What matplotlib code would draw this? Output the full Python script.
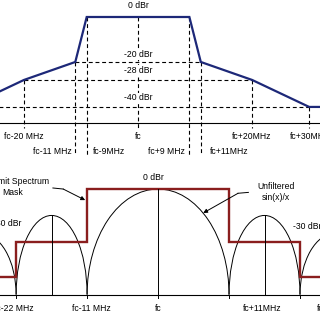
import matplotlib
matplotlib.use('Agg')
import matplotlib.pyplot as plt
from matplotlib.patches import Arc

plt.rcParams['font.family'] = ['Liberation Sans Narrow', 'Liberation Sans', 'DejaVu Sans']

# --- top panel: OFDM spectrum mask (MHz offset from fc, dBr)
mask_f = [-40, -30, -20, -11, -9, 9, 11, 20, 30, 40]
mask_db = [-40, -40, -28, -20, 0, 0, -20, -28, -40, -40]

level_db = [-20, -28, -40]
level_span = [(-11, 11), (-20, 20), (-30, 30)]
level_text = ['-20 dBr', '-28 dBr', '-40 dBr']
level_text_y = [-16.9, -23.6, -36.0]

guide_f = [-20, -11, -9, 0, 9, 11, 20, 30]
guide_top = [-28, -20, 0, 0, 0, -20, -28, -40]
guide_row = [1, 2, 2, 1, 2, 2, 1, 1]

tick_text = ['fc-20 MHz', 'fc-11 MHz', 'fc-9MHz', 'fc', 'fc+9 MHz', 'fc+11MHz', 'fc+20MHz', 'fc+30MHz']
tick_x = [-20, -15.1, -5.1, 0, 4.9, 16.0, 20, 30]

# --- bottom panel: DSSS mask and sin(x)/x lobes
dsss_edges = [-30, -22, -11, 11, 22, 30]
dsss_db = [-50, -30, 0, -30, -50]

lobe_center = [-27.5, -16.5, 0, 16.5, 27.5]
lobe_halfwidth = [5.5, 5.5, 11, 5.5, 5.5]
lobe_peak = [-25, -15, 0, -15, -25]
base_db = -60

bottom_text = ['fc-22 MHz', 'fc-11 MHz', 'fc', 'fc+11MHz', 'fc+22MHz']
bottom_x = [-22.3, -10.4, 0, 16.1, 27.7]

navy = '#1d2878'
maroon = '#8a1e1e'
fs = 6.2
dash = (0, (3.5, 2.5))


def pointer(ax, tail, bend, head):
    # short leader line, then the arrow
    ax.plot([tail[0], bend[0]], [tail[1], bend[1]], color='black', lw=0.7)
    ax.annotate('', xy=head, xytext=bend,
                arrowprops=dict(arrowstyle='-|>', color='black', lw=0.7, mutation_scale=6,
                                shrinkA=0, shrinkB=0))


fig = plt.figure(figsize=(3.2, 3.2), dpi=100)

# top panel
ax1 = fig.add_axes([0, 0.5, 1, 0.5])
ax1.set_xlim(-24.2, 31.9)
ax1.set_ylim(-63.6, 7.56)
ax1.axis('off')

ax1.axhline(-47, color='black', lw=0.8)
for lvl, (a, b) in zip(level_db, level_span):
    ax1.plot([a, b], [lvl, lvl], color='black', lw=0.8, linestyle=dash)
for f, top, row in zip(guide_f, guide_top, guide_row):
    bottom = -49.5 if row == 1 else -61.5
    ax1.plot([f, f], [top, bottom], color='black', lw=0.8, linestyle=dash)
ax1.plot(mask_f, mask_db, color=navy, lw=1.6, solid_joinstyle='miter')

ax1.text(0, 5.3, '0 dBr', ha='center', va='center', fontsize=fs)
for txt, y in zip(level_text, level_text_y):
    ax1.text(0, y, txt, ha='center', va='center', fontsize=fs,
             bbox=dict(facecolor='white', edgecolor='none', pad=0.5))
for txt, x, row in zip(tick_text, tick_x, guide_row):
    y = -53.3 if row == 1 else -59.6
    ax1.text(x, y, txt, ha='center', va='center', fontsize=fs)

# bottom panel
ax2 = fig.add_axes([0, 0, 1, 0.5])
ax2.set_xlim(-24.5, 25.1)
ax2.set_ylim(-74.4, 16.5)
ax2.axis('off')

ax2.axhline(base_db, color='black', lw=0.8)
for c, hw, pk in zip(lobe_center, lobe_halfwidth, lobe_peak):
    ax2.add_patch(Arc((c, base_db), 2 * hw, 2 * (pk - base_db), theta1=0, theta2=180,
                      color='black', lw=0.7))
    if abs(c) < 20:
        ax2.plot([c, c], [base_db, pk], color='black', lw=0.7)
for f in [-22, -11, 0, 11, 22]:
    ax2.plot([f, f], [base_db, base_db - 2], color='black', lw=0.7)
ax2.stairs(dsss_db, dsss_edges, baseline=None, color=maroon, lw=1.7)

ax2.text(-0.7, 6.8, '0 dBr', ha='center', va='center', fontsize=fs)
ax2.text(-23.4, -19.3, '-30 dBr', ha='center', va='center', fontsize=fs)
ax2.text(23.1, -21.0, '-30 dBr', ha='center', va='center', fontsize=fs)
ax2.text(-22.6, 1.1, 'Transmit Spectrum\nMask', ha='center', va='center', fontsize=fs,
         linespacing=1.25)
ax2.text(18.3, -1.7, 'Unfiltered\nsin(x)/x', ha='center', va='center', fontsize=fs,
         linespacing=1.25)
pointer(ax2, (-16.3, 0.6), (-14.7, 0.0), (-11.3, -6.3))
pointer(ax2, (14.0, -1.9), (12.4, -2.4), (7.0, -13.6))
for txt, x in zip(bottom_text, bottom_x):
    ax2.text(x, -67.6, txt, ha='center', va='center', fontsize=fs)

fig.savefig('out.png', dpi=100, facecolor='white')
